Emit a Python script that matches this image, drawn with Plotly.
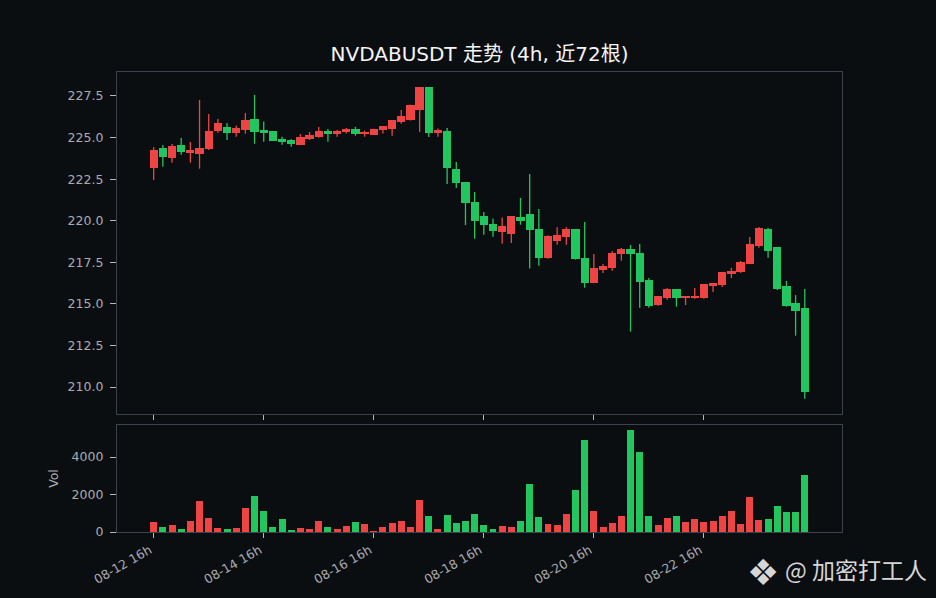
import numpy as np
import plotly.graph_objects as go

# NVDABUSDT, 4h bars, 72 bars starting 08-12 16:00
opens = [223.19, 224.35, 223.79, 224.55, 224.13, 224.03, 224.31, 225.41, 225.64, 225.25,
         225.47, 226.12, 225.46, 225.39, 224.91, 224.85, 224.57, 224.93, 225.05, 225.39,
         225.23, 225.31, 225.51, 225.23, 225.17, 225.43, 225.53, 225.96, 226.06, 226.68,
         228.04, 225.29, 225.39, 223.11, 222.31, 221.11, 220.26, 219.78, 219.34, 219.22,
         220.20, 220.38, 219.48, 217.78, 218.80, 219.04, 219.50, 217.76, 216.27, 217.04,
         217.18, 217.98, 218.30, 218.06, 216.44, 214.95, 215.37, 215.89, 215.37, 215.37,
         215.37, 216.09, 216.13, 216.80, 216.92, 217.41, 218.50, 219.50, 218.42, 216.08,
         215.05, 214.75]
highs = [224.42, 224.55, 224.61, 224.97, 224.73, 227.26, 226.42, 226.12, 225.88, 225.72,
         226.48, 227.56, 225.96, 225.39, 225.05, 224.91, 225.21, 225.33, 225.64, 225.51,
         225.45, 225.57, 225.64, 225.41, 225.53, 225.69, 226.06, 226.66, 226.98, 228.04,
         228.04, 225.55, 225.57, 223.53, 222.31, 221.73, 220.52, 220.14, 220.20, 220.26,
         221.37, 222.81, 220.70, 219.12, 219.60, 219.60, 219.50, 219.92, 218.00, 217.40,
         218.18, 218.36, 218.54, 218.60, 216.56, 215.45, 215.95, 215.89, 215.47, 215.95,
         216.19, 216.25, 216.92, 217.16, 217.58, 219.02, 219.62, 219.56, 218.42, 216.38,
         215.53, 215.89]
lows = [222.45, 223.25, 223.49, 223.97, 223.49, 223.13, 224.25, 225.29, 224.85, 225.05,
        225.23, 224.63, 224.75, 224.79, 224.57, 224.45, 224.55, 224.85, 224.99, 224.75,
        225.05, 225.25, 225.11, 225.05, 225.17, 225.25, 225.11, 225.83, 226.02, 225.33,
        225.03, 225.05, 222.21, 221.97, 219.74, 218.92, 219.16, 219.04, 218.62, 218.66,
        219.76, 217.12, 217.30, 217.72, 218.56, 218.56, 217.66, 215.97, 216.27, 216.86,
        216.99, 217.60, 213.33, 214.77, 214.77, 214.89, 215.25, 214.83, 214.93, 215.31,
        215.31, 215.71, 216.02, 216.56, 216.86, 217.41, 218.38, 217.78, 215.84, 214.83,
        213.09, 209.30]
closes = [224.25, 223.85, 224.49, 224.15, 224.25, 224.37, 225.39, 225.88, 225.29, 225.57,
          226.06, 225.36, 225.29, 224.81, 224.75, 224.63, 225.03, 225.15, 225.39, 225.23,
          225.39, 225.51, 225.23, 225.35, 225.51, 225.69, 226.06, 226.30, 226.96, 228.04,
          225.29, 225.46, 223.19, 222.25, 221.05, 219.96, 219.72, 219.36, 219.66, 220.26,
          220.00, 219.46, 217.78, 219.06, 219.12, 219.49, 217.72, 216.27, 217.16, 217.28,
          218.06, 218.30, 217.98, 216.33, 214.89, 215.45, 215.89, 215.37, 215.47, 215.47,
          216.19, 216.25, 216.92, 216.98, 217.52, 218.60, 219.56, 218.20, 215.92, 214.89,
          214.59, 209.72]
volumes = [533, 267, 373, 160, 587, 1654, 747, 213, 160, 213, 1280, 1920, 1120, 267, 693,
           107, 213, 160, 587, 267, 160, 320, 533, 427, 53, 267, 480, 587, 267, 1707, 853,
           160, 907, 480, 587, 960, 373, 160, 320, 267, 587, 2560, 800, 427, 373, 960, 2240,
           4907, 1120, 267, 480, 853, 5440, 4267, 853, 373, 747, 853, 533, 693, 533, 587,
           853, 1120, 427, 1867, 640, 693, 1387, 1067, 1067, 3040]
tick_idx = [0, 12, 24, 36, 48, 60]
tick_labels = ["08-12 16h", "08-14 16h", "08-16 16h", "08-18 16h", "08-20 16h", "08-22 16h"]

UP = "#ef4444"      # red = up
DOWN = "#22c55e"    # green = down
BG = "#0b0e11"
FRAME = "#3d424b"
TXT = "#a9acb1"
FONT = "DejaVu Sans, Noto Sans CJK SC"

o = np.array(opens)
h = np.array(highs)
l = np.array(lows)
c = np.array(closes)
v = np.array(volumes)
x = np.arange(len(o))
up = c >= o
colors = np.where(up, UP, DOWN)

fig = go.Figure()

# wicks
for mask, col in ((up, UP), (~up, DOWN)):
    wx, wy = [], []
    for i in x[mask]:
        wx += [i, i, None]
        wy += [l[i], h[i], None]
    fig.add_trace(go.Scatter(x=wx, y=wy, mode="lines", line=dict(color=col, width=1.3),
                             hoverinfo="skip", showlegend=False))

# bodies
body = np.maximum(np.abs(c - o), 0.04)
fig.add_trace(go.Bar(x=x, y=body, base=np.minimum(o, c), width=0.9,
                     marker=dict(color=colors, line_width=0), showlegend=False))

# volume
fig.add_trace(go.Bar(x=x, y=v, width=0.76, marker=dict(color=colors, line_width=0),
                     xaxis="x2", yaxis="y2", showlegend=False))

axis_common = dict(showline=True, mirror=True, linecolor=FRAME, linewidth=1.2,
                   showgrid=False, zeroline=False, ticks="outside", ticklen=5,
                   tickwidth=1, tickcolor="#b4b7bc", tickfont=dict(color=TXT, size=12.5))

fig.update_layout(
    width=936, height=598,
    paper_bgcolor=BG, plot_bgcolor=BG,
    font=dict(family=FONT, color=TXT),
    margin=dict(l=117, r=94, t=72, b=66),
    bargap=0, barmode="overlay",
    title=dict(text="NVDABUSDT 走势 (4h, 近72根)", x=0.5, xref="paper", xanchor="center",
               y=1 - 54 / 598, yref="container", yanchor="middle",
               font=dict(size=20, color="#f5f5f5")),
    xaxis=dict(axis_common, domain=[0, 1], range=[-4.0, 75.06], anchor="y",
               tickvals=tick_idx, showticklabels=False),
    yaxis=dict(axis_common, domain=[0.2565, 1], range=[208.38, 228.94], dtick=2.5,
               tickformat=".1f", anchor="x", ticklen=6, ticklabelstandoff=4),
    xaxis2=dict(axis_common, domain=[0, 1], range=[-4.0, 75.06], anchor="y2",
                tickvals=tick_idx, ticktext=tick_labels, tickangle=-30,
                ticklabelshift=-4),
    yaxis2=dict(axis_common, domain=[0, 0.2326], range=[0, 5707],
                tickvals=[0, 2000, 4000], anchor="x2", ticklen=6, ticklabelstandoff=4,
                title=dict(text="Vol", font=dict(size=12.5, color=TXT), standoff=10)),
    annotations=[
        dict(text="❖", x=(781 - 117) / 725, y=(532 - 595) / 460, xref="paper", yref="paper",
             showarrow=False, font=dict(family="DejaVu Sans", size=36, color="#d6d6d6")),
        dict(text="@ 加密打工人", x=(783 - 117) / 725, y=(532 - 588) / 460, xref="paper",
             yref="paper", xanchor="left", showarrow=False,
             font=dict(family="Noto Sans CJK SC", size=23, color="#d6d6d6")),
    ],
)

fig.write_html("out.html", config={"displayModeBar": False},
               post_script="document.body.style.margin='0';document.body.style.overflow='hidden';")
